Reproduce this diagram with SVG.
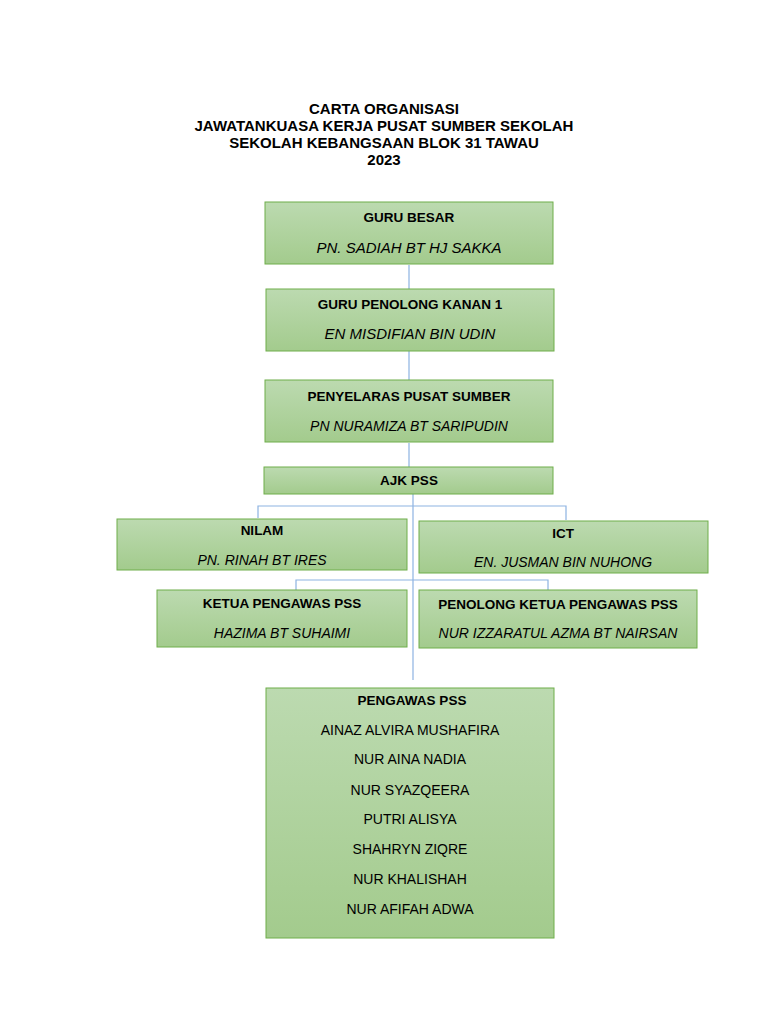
<svg xmlns="http://www.w3.org/2000/svg" width="768" height="1024" viewBox="0 0 768 1024">
<defs>
<linearGradient id="g" x1="0" y1="0" x2="0" y2="1"><stop offset="0" stop-color="#bcdab0"/><stop offset="1" stop-color="#a3cb8d"/></linearGradient>
<style>
.b{fill:url(#g);stroke:#6fae4a;stroke-width:1}
.t{font-family:"Liberation Sans",Arial,sans-serif;font-size:14px;fill:#000;text-anchor:middle}
.h{font-weight:bold;font-size:13.5px}
.i{font-style:italic}
.c{stroke:#8db3e2;stroke-width:1.2;fill:none}
</style>
</defs>
<rect width="768" height="1024" fill="#fff"/>
<g id="title" class="t" font-weight="bold" style="font-weight:bold;font-size:15px">
<text x="384" y="114">CARTA ORGANISASI</text>
<text x="384" y="131">JAWATANKUASA KERJA PUSAT SUMBER SEKOLAH</text>
<text x="384" y="148">SEKOLAH KEBANGSAAN BLOK 31 TAWAU</text>
<text x="384" y="165">2023</text>
</g>
<g id="connectors" class="c">
<path d="M409 265V289M409 351V380M409 443V467"/>
<path d="M413 494V680"/>
<path d="M258 518V506H566V520"/>
<path d="M296 590V580H548V590"/>
</g>
<g id="n1"><rect class="b" x="265" y="202" width="288" height="62"/><text class="t h" x="409" y="222">GURU BESAR</text><text class="t i" x="409" y="253" style="font-size:15px">PN. SADIAH BT HJ SAKKA</text></g>
<g id="n2"><rect class="b" x="266" y="289" width="288" height="62"/><text class="t h" x="410" y="309">GURU PENOLONG KANAN 1</text><text class="t i" x="410" y="339" style="font-size:15px">EN MISDIFIAN BIN UDIN</text></g>
<g id="n3"><rect class="b" x="265" y="380" width="288" height="62"/><text class="t h" x="409" y="401">PENYELARAS PUSAT SUMBER</text><text class="t i" x="409" y="431">PN NURAMIZA BT SARIPUDIN</text></g>
<g id="n4"><rect class="b" x="264" y="467" width="289" height="27"/><text class="t h" x="409" y="485">AJK PSS</text></g>
<g id="n5"><rect class="b" x="117" y="519" width="290" height="51"/><text class="t h" x="262" y="535">NILAM</text><text class="t i" x="262" y="565">PN. RINAH BT IRES</text></g>
<g id="n6"><rect class="b" x="419" y="521" width="289" height="52"/><text class="t h" x="563" y="538">ICT</text><text class="t i" x="563" y="567">EN. JUSMAN BIN NUHONG</text></g>
<g id="n7"><rect class="b" x="157" y="590" width="250" height="57"/><text class="t h" x="282" y="608">KETUA PENGAWAS PSS</text><text class="t i" x="282" y="638">HAZIMA BT SUHAIMI</text></g>
<g id="n8"><rect class="b" x="419" y="590" width="278" height="58"/><text class="t h" x="558" y="609">PENOLONG KETUA PENGAWAS PSS</text><text class="t i" x="558" y="638">NUR IZZARATUL AZMA BT NAIRSAN</text></g>
<g id="n9"><rect class="b" x="266" y="688" width="288" height="250"/>
<text class="t h" x="412" y="705">PENGAWAS PSS</text>
<text class="t" x="410" y="735">AINAZ ALVIRA MUSHAFIRA</text>
<text class="t" x="410" y="764">NUR AINA NADIA</text>
<text class="t" x="410" y="795">NUR SYAZQEERA</text>
<text class="t" x="410" y="824">PUTRI ALISYA</text>
<text class="t" x="410" y="854">SHAHRYN ZIQRE</text>
<text class="t" x="410" y="884">NUR KHALISHAH</text>
<text class="t" x="410" y="914">NUR AFIFAH ADWA</text></g>
</svg>
